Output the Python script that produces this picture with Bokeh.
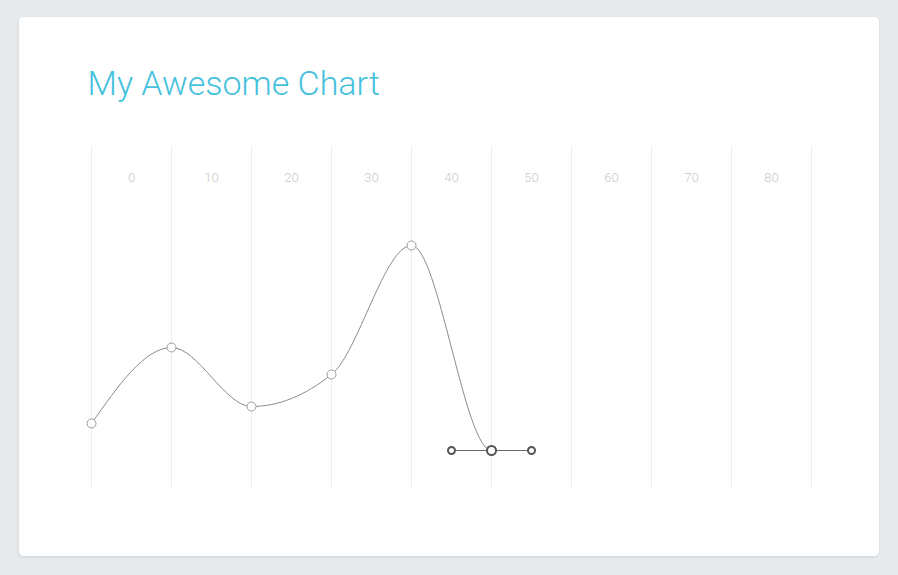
import numpy as np
from bokeh.plotting import figure
from bokeh.models import Range1d, FixedTicker, Grid, ColumnDataSource
from bokeh.core.properties import value
from bokeh.embed import file_html
from bokeh.resources import INLINE

# ---- data ----
title_text = "My Awesome Chart"
x_values = [0, 10, 20, 30, 40, 50]
y_values = [6.4, 14.0, 8.1, 11.3, 24.2, 3.7]
range_x = [45, 50, 55]
range_y = [3.7, 3.7, 3.7]
grid_ticks = [0, 10, 20, 30, 40, 50, 60, 70, 80, 90]
tick_labels = ["0", "10", "20", "30", "40", "50", "60", "70", "80"]
tick_positions = [0, 10, 20, 30, 40, 50, 60, 70, 80]

FONT = "Roboto Light, Lato Light, Roboto, sans-serif"


def monotone_beziers(xs, ys):
    """Monotone cubic (d3-style) segments; curve flattens into its last point."""
    xs = np.asarray(xs, float)
    ys = np.asarray(ys, float)
    n = len(xs)
    t = np.zeros(n)
    for i in range(1, n - 1):
        h0 = xs[i] - xs[i - 1]
        h1 = xs[i + 1] - xs[i]
        s0 = (ys[i] - ys[i - 1]) / h0
        s1 = (ys[i + 1] - ys[i]) / h1
        p = (s0 * h1 + s1 * h0) / (h0 + h1)
        t[i] = (np.sign(s0) + np.sign(s1)) * min(abs(s0), abs(s1), 0.5 * abs(p))
    h = xs[1] - xs[0]
    t[0] = (3 * (ys[1] - ys[0]) / h - t[1]) / 2
    t[-1] = 0.0
    x0, y0, x1, y1, cx0, cy0, cx1, cy1 = [], [], [], [], [], [], [], []
    for i in range(n - 1):
        dx = (xs[i + 1] - xs[i]) / 3
        x0.append(xs[i]); y0.append(ys[i])
        x1.append(xs[i + 1]); y1.append(ys[i + 1])
        cx0.append(xs[i] + dx); cy0.append(ys[i] + dx * t[i])
        cx1.append(xs[i + 1] - dx); cy1.append(ys[i + 1] - dx * t[i + 1])
    return dict(x0=x0, y0=y0, x1=x1, y1=y1, cx0=cx0, cy0=cy0, cx1=cx1, cy1=cy1)


p = figure(
    width=860, height=539,
    x_range=Range1d(-5, 95), y_range=Range1d(0, 34.2),
    output_backend="svg", toolbar_location=None,
    x_axis_location=None, y_axis_location=None,
    min_border_left=32, min_border_right=28,
    min_border_top=128, min_border_bottom=69,
    outline_line_color=None, background_fill_color="white",
    border_fill_color="white",
)
p.margin = (17, 0, 0, 19)
p.styles = {"border-radius": "5px", "overflow": "hidden",
            "background-color": "white",
            "box-shadow": "0 1px 3px rgba(0,0,0,0.10)"}
p.grid.visible = False

p.title.text = title_text
p.title.align = "left"
p.title.offset = 36
p.title.standoff = 86
p.title.text_font = FONT
p.title.text_font_style = "normal"
p.title.text_font_size = "34px"
p.title.text_color = "#45c1de"

grid = Grid(dimension=0, ticker=FixedTicker(ticks=grid_ticks),
            grid_line_color="#ececec", grid_line_width=1)
p.add_layout(grid)

# tick labels centred in the bands
step = tick_positions[1] - tick_positions[0]
p.text(x=[t + step / 2 for t in tick_positions], y=[34.2] * len(tick_positions),
       text=tick_labels, y_offset=32,
       text_align="center", text_baseline="middle",
       text_font=value(FONT), text_font_size="13px", text_color="#c9c9c9")

# smooth curve
bz = monotone_beziers(x_values, y_values)
p.bezier(source=ColumnDataSource(bz), x0="x0", y0="y0", x1="x1", y1="y1",
         cx0="cx0", cy0="cy0", cx1="cx1", cy1="cy1",
         line_color="#8a8a8a", line_width=1)
p.scatter(x_values, y_values, size=9, fill_color="white",
          line_color="#9a9a9a", line_width=1)

# range marker
p.line(range_x, range_y, line_color="#666666", line_width=1)
p.scatter(range_x, range_y, size=[7, 9, 7], fill_color="white",
          line_color="#555555", line_width=2)

html = file_html(p, INLINE)
html = html.replace("<head>", "<head><style>body{background:#e7eaed;}</style>", 1)
open("out.html", "w").write(html)
